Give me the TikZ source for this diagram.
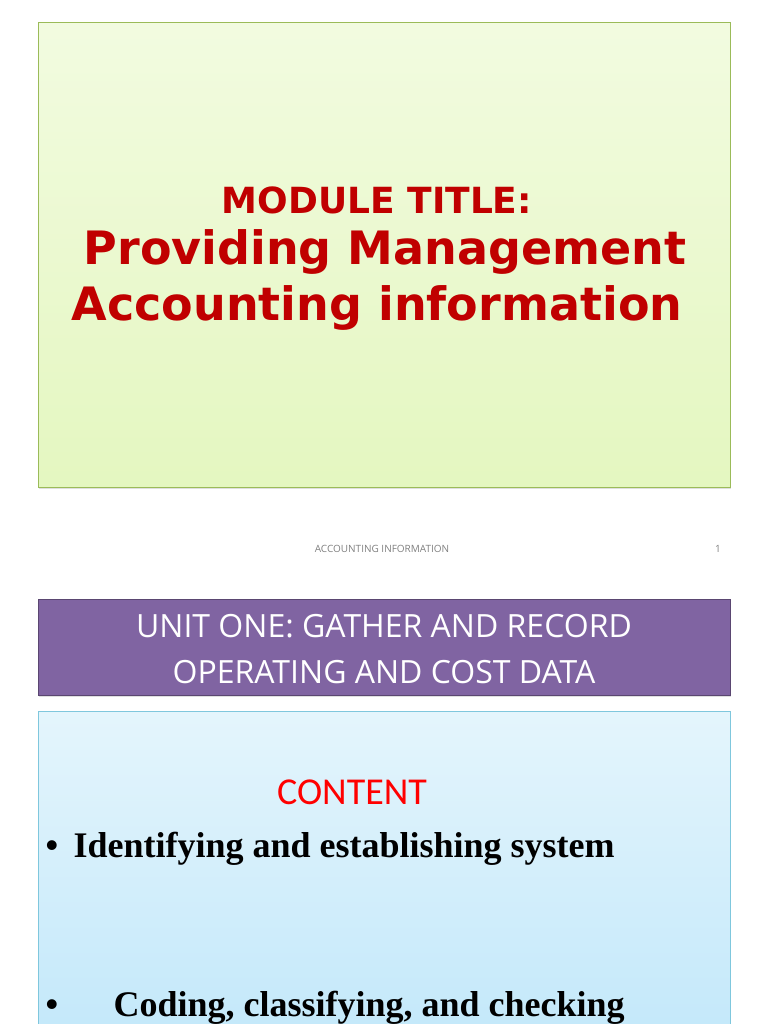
\documentclass[tikz,border=0pt]{standalone}
\usepackage{fontspec}
\setmainfont{Liberation Serif}
\newfontfamily\dvs{DejaVu Sans}
\newfontfamily\opensans{Open Sans}
\newfontfamily\carl{Carlito}
\definecolor{dred}{HTML}{C00000}
\definecolor{greentop}{HTML}{F2FBE0}
\definecolor{greenbot}{HTML}{E4F7C0}
\definecolor{greenedge}{HTML}{9BBB59}
\definecolor{purp}{HTML}{8064A2}
\definecolor{bluetop}{HTML}{E4F5FC}
\definecolor{bluebot}{HTML}{C3E8FA}
\definecolor{blueedge}{HTML}{7FC7DD}
\tikzset{panel/.style={draw, line width=0.8pt, drop shadow={opacity=0.25, shadow xshift=1pt, shadow yshift=-1.5pt}}}
\usetikzlibrary{shadows}
\begin{document}
\begin{tikzpicture}[x=1pt,y=-1pt]
\useasboundingbox (0,0) rectangle (768,1024);
\fill[white] (0,0) rectangle (768,1024);
\node[panel, draw=greenedge, top color=greentop, bottom color=greenbot, anchor=north west, minimum width=692pt, minimum height=465pt, inner sep=0pt] (title) at (38,22) {};
\node[text=dred, font=\dvs\bfseries\fontsize{36}{40}\selectfont] (mt) at (377,200) {MODULE TITLE:};
\node[text=dred, font=\dvs\bfseries\fontsize{46}{56}\selectfont, align=center] (pm) at (377,280) {\ Providing Management\\Accounting information\ };
\node[text=gray, font=\opensans\fontsize{10}{12}\selectfont] (foot) at (382,549) {ACCOUNTING INFORMATION};
\node[text=gray, font=\opensans\fontsize{10}{12}\selectfont] (pg) at (718,549) {1};
\node[panel, draw=purp!70!black, fill=purp, anchor=north west, minimum width=692pt, minimum height=96pt, inner sep=0pt] (unit) at (38,599) {};
\node[text=white, font=\opensans\fontsize{32}{46}\selectfont, align=center] (ut) at (384,649) {UNIT ONE: GATHER AND RECORD\\OPERATING AND COST DATA};
\node[panel, draw=blueedge, top color=bluetop, bottom color=bluebot, anchor=north west, minimum width=692pt, minimum height=330pt, inner sep=0pt] (content) at (38,711) {};
\node[text=red, font=\carl\fontsize{38}{44}\selectfont] (ct) at (352,792) {CONTENT};
\node[anchor=west, font=\bfseries\fontsize{36}{40}\selectfont] (b1) at (42,849) {•};
\node[anchor=west, font=\bfseries\fontsize{36}{40}\selectfont] (i1) at (70,849) {Identifying and establishing system};
\node[anchor=west, font=\bfseries\fontsize{36}{40}\selectfont] (b2) at (42,1008) {•};
\node[anchor=west, font=\bfseries\fontsize{36}{40}\selectfont] (i2) at (110,1008) {Coding, classifying, and checking};
\end{tikzpicture}
\end{document}
